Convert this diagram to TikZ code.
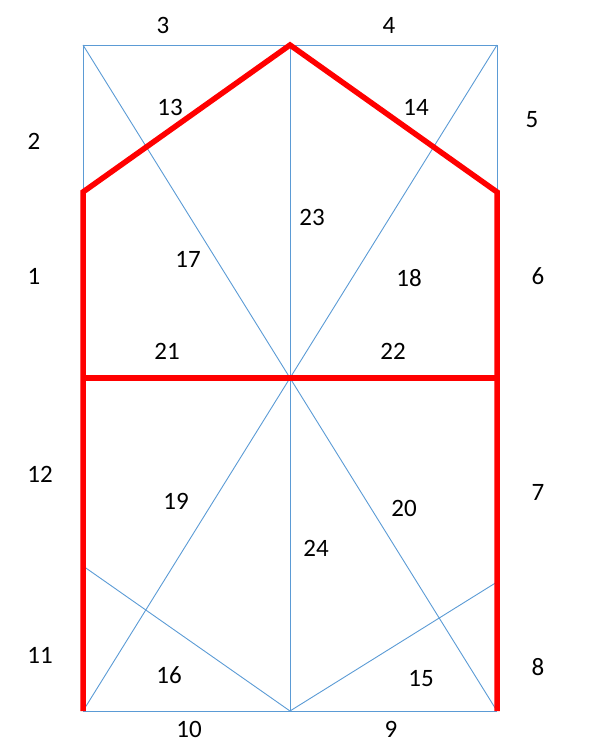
\documentclass[tikz,border=0pt]{standalone}
\usepackage{fontspec}
\setmainfont{Carlito}
\definecolor{thinblue}{RGB}{91,155,213}
\definecolor{strongred}{RGB}{255,0,0}
\begin{document}
\begin{tikzpicture}[x=1pt,y=-1pt,
  thin line/.style={draw=thinblue,line width=0.9pt},
  red line/.style={draw=strongred,line width=5.5pt,line join=miter},
  lbl/.style={font=\fontsize{25}{27}\selectfont,inner sep=0pt}]
\useasboundingbox (0,0) rectangle (597,745);
% points
\coordinate (TL) at (83,45);
\coordinate (TM) at (290,45);
\coordinate (TR) at (497,45);
\coordinate (LE) at (83,192);
\coordinate (RE) at (497,192);
\coordinate (LM) at (83,378);
\coordinate (C)  at (290,378);
\coordinate (RM) at (497,378);
\coordinate (LL) at (83,566);
\coordinate (RL) at (497,582);
\coordinate (BL) at (83,711);
\coordinate (BM) at (290,711);
\coordinate (BR) at (497,711);
% thin lines
\draw[thin line] (TL) -- (TR);
\draw[thin line] (TL) -- (LE);
\draw[thin line] (TR) -- (RE);
\draw[thin line] (BL) -- (BR);
\draw[thin line] (TM) -- (BM);
\draw[thin line] (TL) -- (C);
\draw[thin line] (TR) -- (C);
\draw[thin line] (C) -- (BL);
\draw[thin line] (C) -- (BR);
\draw[thin line] (LL) -- (BM);
\draw[thin line] (RL) -- (BM);
% red lines
\draw[red line] (BL) -- (LE) -- (TM) -- (RE) -- (BR);
\draw[red line] (LM) -- (RM);
% labels
\node[lbl] (n1)  at (34,276) {1};
\node[lbl] (n2)  at (34,141) {2};
\node[lbl] (n3)  at (163,25) {3};
\node[lbl] (n4)  at (389,25) {4};
\node[lbl] (n5)  at (532,120) {5};
\node[lbl] (n6)  at (538,276) {6};
\node[lbl] (n7)  at (538,492) {7};
\node[lbl] (n8)  at (538,667) {8};
\node[lbl] (n9)  at (391,729) {9};
\node[lbl] (n10) at (189,729) {10};
\node[lbl] (n11) at (40,655) {11};
\node[lbl] (n12) at (40,474) {12};
\node[lbl] (n13) at (170,107) {13};
\node[lbl] (n14) at (416,107) {14};
\node[lbl] (n15) at (421,679) {15};
\node[lbl] (n16) at (169,675) {16};
\node[lbl] (n17) at (188,259) {17};
\node[lbl] (n18) at (409,278) {18};
\node[lbl] (n19) at (176,501) {19};
\node[lbl] (n20) at (404,508) {20};
\node[lbl] (n21) at (167,351) {21};
\node[lbl] (n22) at (393,351) {22};
\node[lbl] (n23) at (312,217) {23};
\node[lbl] (n24) at (316,548) {24};
\end{tikzpicture}
\end{document}
